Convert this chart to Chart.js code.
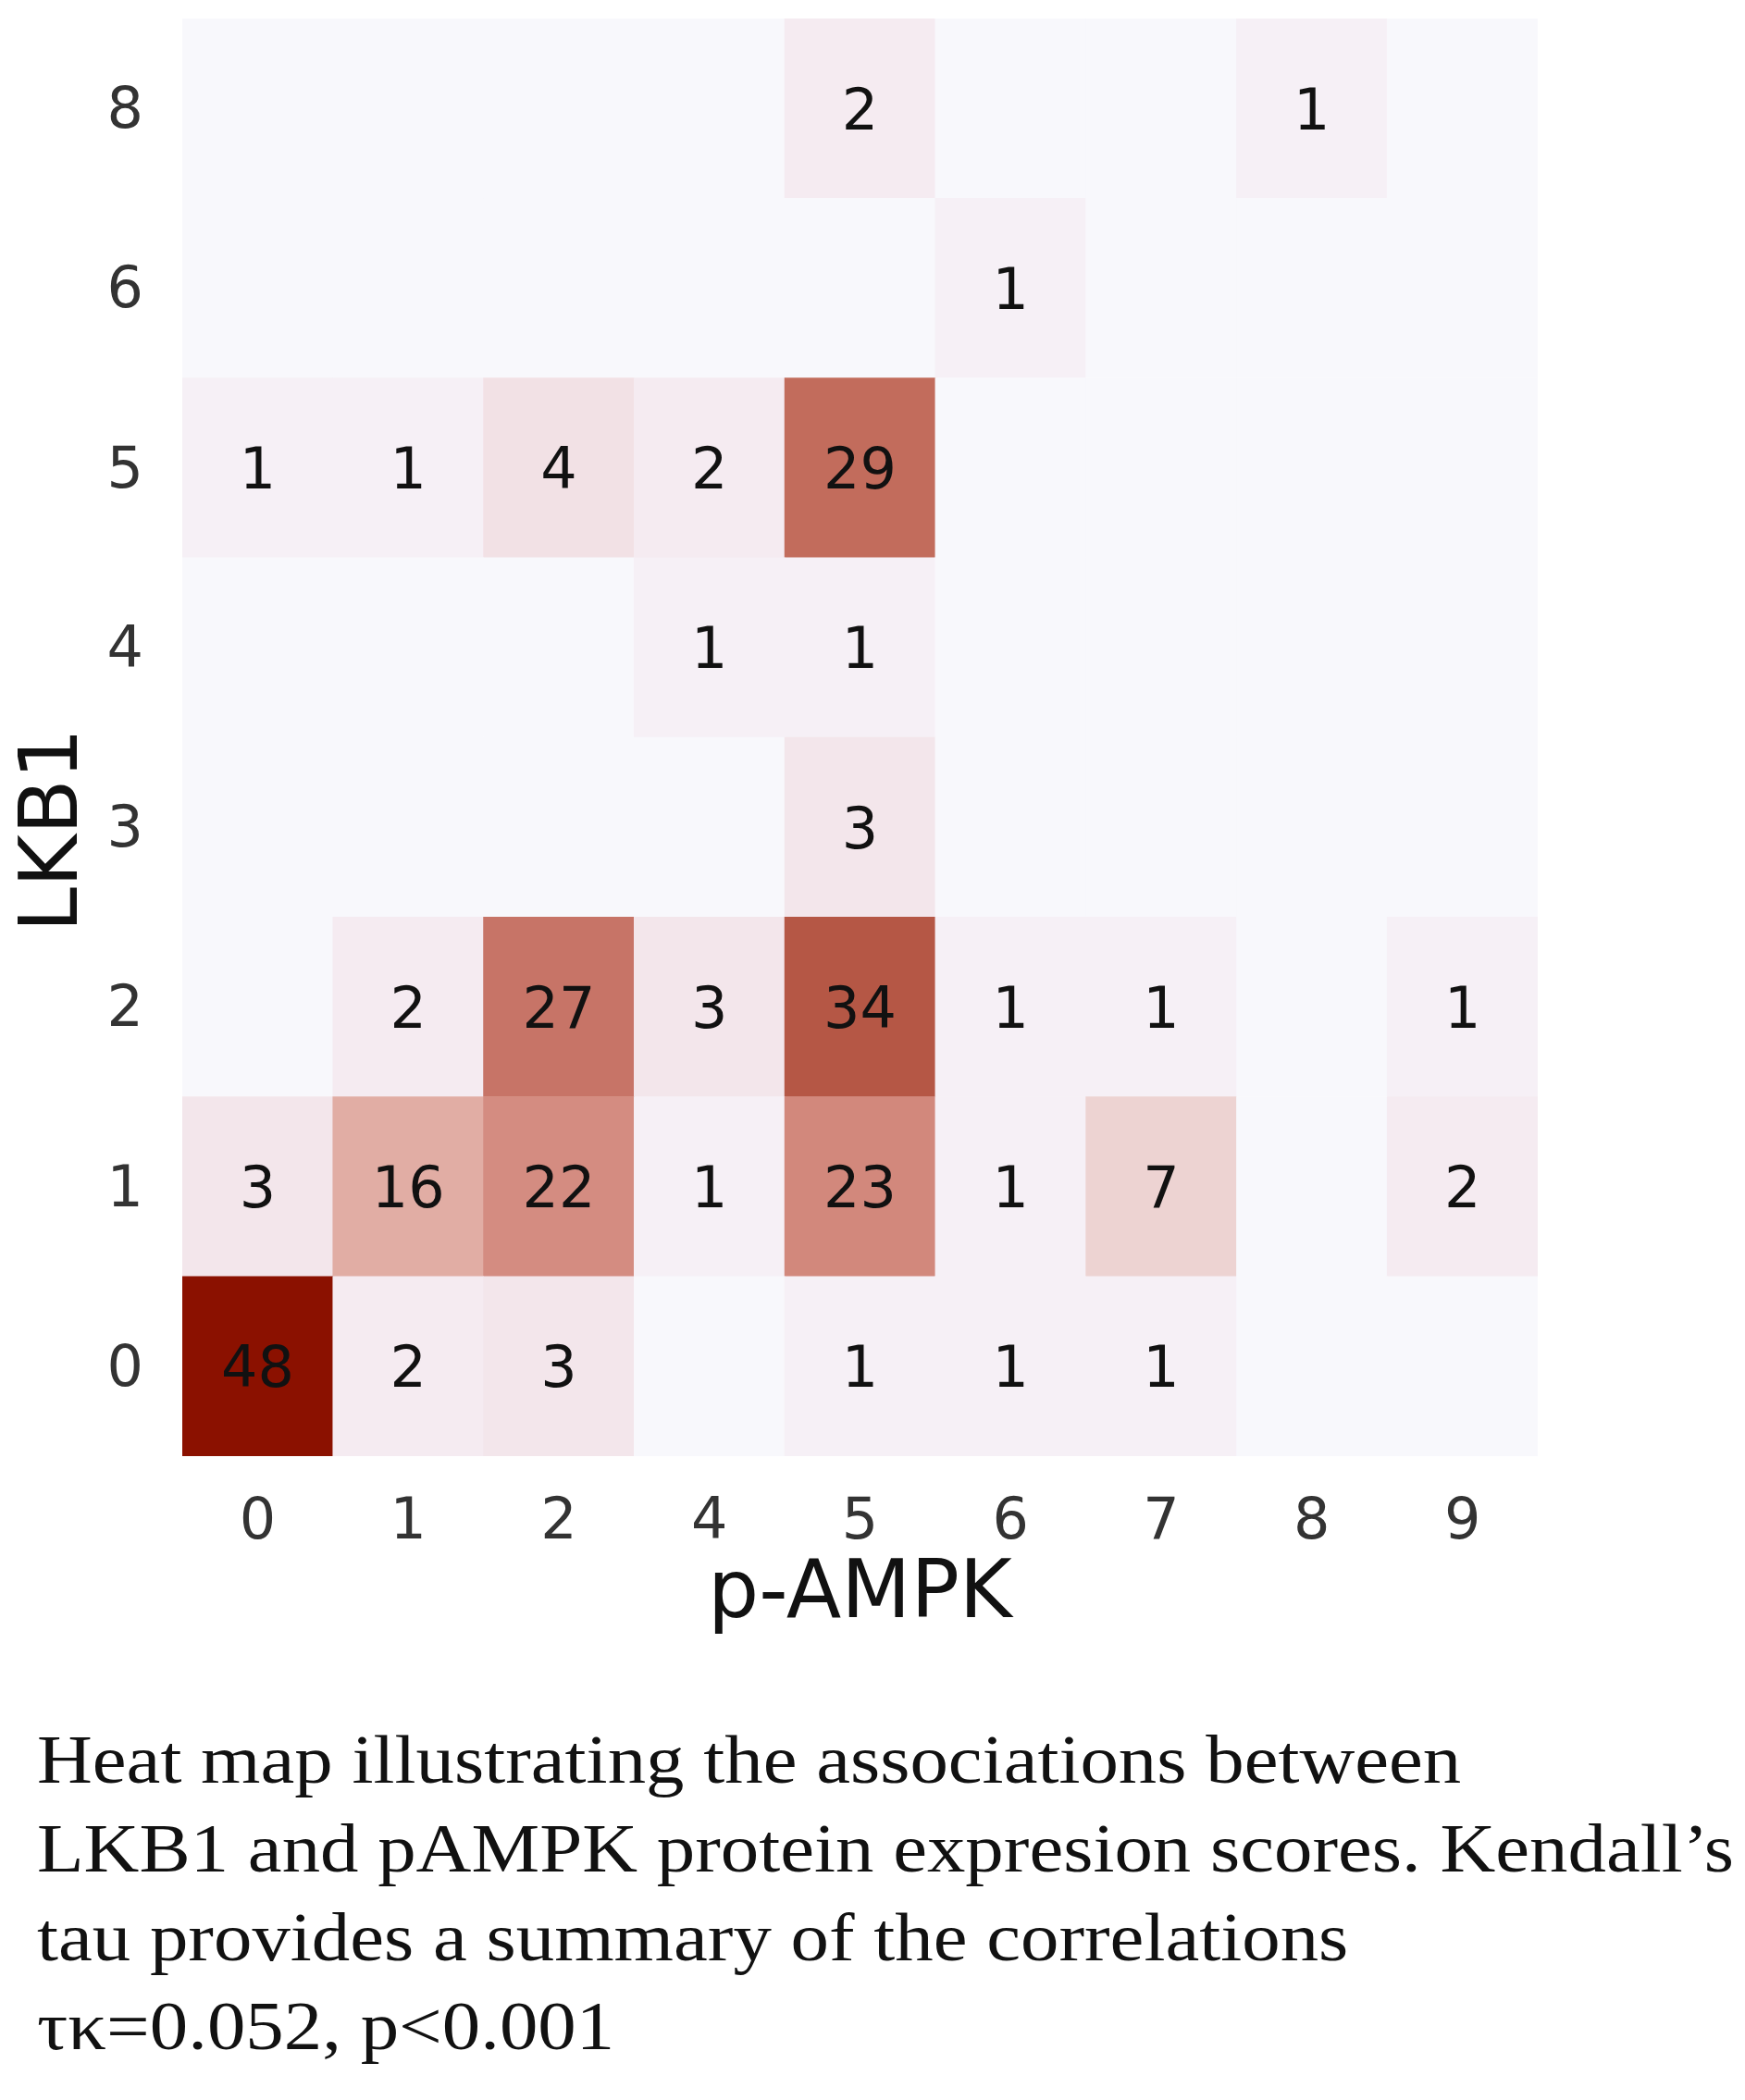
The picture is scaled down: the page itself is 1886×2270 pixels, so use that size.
<!DOCTYPE html>
<html>
<head>
<meta charset="utf-8">
<script src="https://cdn.jsdelivr.net/npm/chart.js@4/dist/chart.umd.min.js"></script>
<style>
  html, body { margin: 0; padding: 0; background: #ffffff; }
  #wrap { position: absolute; left: 0; top: 0; width: 1886px; height: 1800px; }
  #caption {
    position: absolute; left: 40px; top: 1855px;
    font-family: "Liberation Serif", "Times New Roman", serif;
    font-size: 73px; line-height: 96px; color: #111; white-space: pre;
    transform: scaleX(1.135); transform-origin: 0 0;
  }
</style>
</head>
<body>
<div id="wrap"><canvas id="c"></canvas></div>
<div id="caption">Heat map illustrating the associations between
LKB1 and pAMPK protein expresion scores. Kendall’s
tau provides a summary of the correlations
τκ=0.052, p&lt;0.001</div>
<script>
// p-AMPK scores (columns) and LKB1 scores (rows, bottom to top)
const pAMPK = ['0', '1', '2', '4', '5', '6', '7', '8', '9'];
const LKB1 = ['0', '1', '2', '3', '4', '5', '6', '8'];

// counts per LKB1 row, in p-AMPK column order
const lkb1_0 = [48, 2, 3, 0, 1, 1, 1, 0, 0];
const lkb1_1 = [3, 16, 22, 1, 23, 1, 7, 0, 2];
const lkb1_2 = [0, 2, 27, 3, 34, 1, 1, 0, 1];
const lkb1_3 = [0, 0, 0, 0, 3, 0, 0, 0, 0];
const lkb1_4 = [0, 0, 0, 1, 1, 0, 0, 0, 0];
const lkb1_5 = [1, 1, 4, 2, 29, 0, 0, 0, 0];
const lkb1_6 = [0, 0, 0, 0, 0, 1, 0, 0, 0];
const lkb1_8 = [0, 0, 0, 0, 2, 0, 0, 1, 0];

const rows = [lkb1_0, lkb1_1, lkb1_2, lkb1_3, lkb1_4, lkb1_5, lkb1_6, lkb1_8];
const vmax = 48;

// colour map (fraction of max -> rgb)
const cmapStops = [
  [0.0,   [248, 248, 252]],
  [0.021, [246, 240, 246]],
  [0.0625,[243, 230, 235]],
  [0.146, [237, 211, 210]],
  [0.333, [225, 173, 164]],
  [0.46,  [212, 140, 129]],
  [0.5625,[199, 116, 103]],
  [0.604, [194, 108, 92]],
  [0.708, [181, 87, 69]],
  [1.0,   [139, 17, 0]]
];
function colorFor(v) {
  const t = Math.max(0, Math.min(1, v / vmax));
  for (let i = 1; i < cmapStops.length; i++) {
    const [t1, c1] = cmapStops[i];
    const [t0, c0] = cmapStops[i - 1];
    if (t <= t1) {
      const f = (t - t0) / (t1 - t0);
      const c = c0.map((a, k) => Math.round(a + (c1[k] - a) * f));
      return `rgb(${c[0]},${c[1]},${c[2]})`;
    }
  }
  return 'rgb(139,17,0)';
}

const datasets = rows.map((counts, r) => ({
  label: 'LKB1 ' + LKB1[r],
  data: counts.map(() => [r, r + 1]),
  counts: counts,
  backgroundColor: counts.map(colorFor),
  borderWidth: 0,
  barPercentage: 1,
  categoryPercentage: 1,
  grouped: false
}));

const cellLabels = {
  id: 'cellLabels',
  afterDatasetsDraw(chart) {
    const ctx = chart.ctx;
    ctx.save();
    ctx.font = '62px "DejaVu Sans"';
    ctx.fillStyle = '#111111';
    ctx.textAlign = 'center';
    ctx.textBaseline = 'alphabetic';
    chart.data.datasets.forEach((ds, di) => {
      const meta = chart.getDatasetMeta(di);
      meta.data.forEach((el, i) => {
        const v = ds.counts[i];
        if (!v) return;
        const p = el.getProps(['x', 'y', 'base'], true);
        const cy = (p.y + p.base) / 2;
        ctx.fillText(String(v), p.x, cy + 0.3645 * 62);
      });
    });
    ctx.restore();
  }
};

const yTitle = {
  id: 'yTitle',
  afterDraw(chart) {
    const a = chart.chartArea;
    const ctx = chart.ctx;
    ctx.save();
    ctx.translate(a.left - 114, a.top + 0.5645 * (a.bottom - a.top));
    ctx.rotate(-Math.PI / 2);
    ctx.font = '87px "DejaVu Sans"';
    ctx.fillStyle = '#111111';
    ctx.textAlign = 'center';
    ctx.textBaseline = 'alphabetic';
    ctx.fillText('LKB1', 0, 0);
    ctx.restore();
  }
};

new Chart(document.getElementById('c'), {
  type: 'bar',
  data: { labels: pAMPK, datasets: datasets },
  plugins: [cellLabels, yTitle],
  options: {
    responsive: true,
    maintainAspectRatio: false,
    animation: false,
    layout: { padding: { left: 0, right: 224, top: 20, bottom: 0 } },
    plugins: { legend: { display: false }, tooltip: { enabled: false } },
    scales: {
      x: {
        type: 'category',
        grid: { display: false, drawTicks: false },
        border: { display: false },
        ticks: { color: '#333333', font: { family: 'DejaVu Sans', size: 62 }, padding: 36 },
        title: {
          display: true, text: 'p-AMPK', color: '#111111',
          font: { family: 'DejaVu Sans', size: 87 },
          padding: { top: 0, bottom: 22 }
        },
        afterFit(scale) { scale.height = 226; scale.paddingLeft = 0; scale.paddingRight = 0; }
      },
      y: {
        type: 'linear', min: 0, max: 8,
        grid: { display: false, drawTicks: false },
        border: { display: false },
        ticks: {
          autoSkip: false, labelOffset: 5,
          color: '#333333', font: { family: 'DejaVu Sans', size: 62 }, padding: 42,
          callback: (value, index) => LKB1[index]
        },
        afterBuildTicks(scale) { scale.ticks = LKB1.map((_, i) => ({ value: i + 0.5 })); },
        afterFit(scale) { scale.width = 197; scale.paddingTop = 0; scale.paddingBottom = 0; }
      }
    }
  }
});
</script>
</body>
</html>
